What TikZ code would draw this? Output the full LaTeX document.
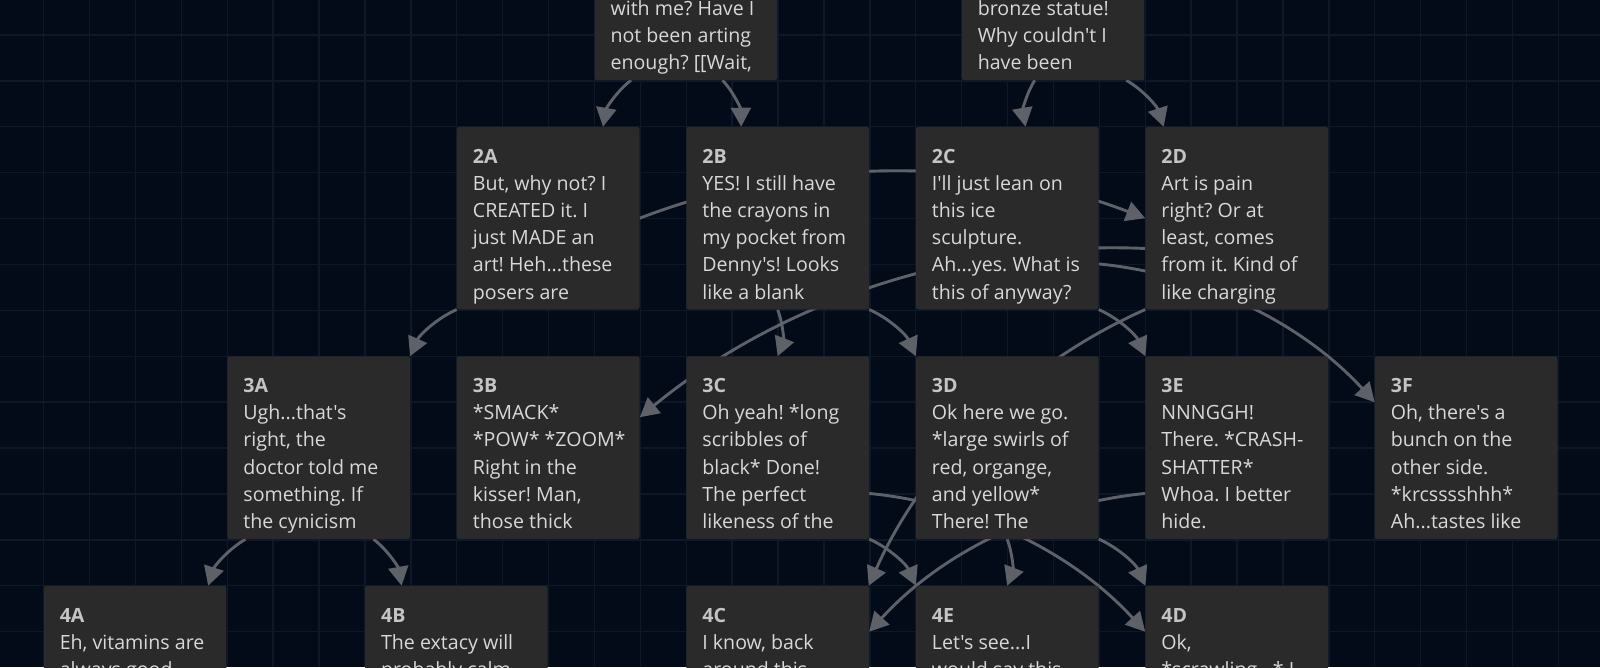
\documentclass[tikz,border=0pt]{standalone}
\usepackage{fontspec}
\newfontfamily\tw{Open Sans}
\usetikzlibrary{arrows.meta,calc}
\definecolor{bgc}{HTML}{030B19}
\definecolor{gridc}{HTML}{0F1828}
\definecolor{boxc}{HTML}{2A2A2A}
\definecolor{textc}{HTML}{D8D8D8}
\definecolor{titlec}{HTML}{C4C4C4}
\definecolor{linkc}{HTML}{5E6168}
\pgfdeclarelayer{gridlayer}
\pgfdeclarelayer{linklayer}
\pgfsetlayers{gridlayer,linklayer,main}
\newcommand\dd{...}
\frenchspacing
\tikzset{
  box/.style={rectangle, fill=boxc, minimum width=182.6pt, minimum height=182.6pt,
    inner sep=0pt, rounded corners=2pt, anchor=north west},
  ttl/.style={font=\tw\bfseries\fontsize{19.6}{21}\selectfont, text=titlec, inner sep=0pt, anchor=base west},
  txt/.style={font=\tw\frenchspacing\fontsize{19.6}{21}\selectfont, text=textc, inner sep=0pt, anchor=base west},
  link/.style={draw=linkc, line width=2.9pt, -{Triangle[length=19pt,width=20pt]}, looseness=0.88},
}
\newcommand\mkbox[3]{\node[box] (#1) at (#2,#3) {};}
\newcommand\mktitle[2]{\node[ttl] (#1-t) at ($(#1.north west)+(16,36.6)$) {#2};}
\newcommand\mklines[3]{\foreach \t [count=\i from #2] in {#3} {\node[txt] (#1-\i) at ($(#1.north west)+(16,63.3+27.3*\i-27.3)$) {\t};}}
\newcommand\lnk[3]{%
  \path (#1) -- (#2) coordinate[pos=0] (#1#2s) coordinate[pos=1] (#1#2e);
  \begin{pgfonlayer}{linklayer}\draw[link] (#1#2s) to[#3] (#1#2e);\end{pgfonlayer}}
\begin{document}
\begin{tikzpicture}[x=1pt,y=-1pt]
\useasboundingbox (0,0) rectangle (1600,667);
\begin{pgfonlayer}{gridlayer}
  \fill[bgc] (0,0) rectangle (1600,667);
  \foreach \k in {-1,0,...,34} {\draw[gridc, line width=1.4pt] (43.6+45.9*\k,0) -- (43.6+45.9*\k,667);}
  \foreach \k in {-1,0,...,14} {\draw[gridc, line width=1.4pt] (0,34.9+45.9*\k) -- (1600,34.9+45.9*\k);}
\end{pgfonlayer}
% passages
\mkbox{pT1}{594.4}{-102.8}
\mklines{pT1}{3}{{with me? Have I},{not been arting},{enough? [[Wait,}}
\mkbox{pT2}{961.6}{-102.8}
\mklines{pT2}{3}{{bronze statue!},{Why couldn't I},{have been}}
\mkbox{p2A}{456.7}{126.7}\mktitle{p2A}{2A}
\mklines{p2A}{1}{{But, why not? I},{CREATED it. I},{just MADE an},{art! Heh\dd these},{posers are}}
\mkbox{p2B}{686.2}{126.7}\mktitle{p2B}{2B}
\mklines{p2B}{1}{{YES! I still have},{the crayons in},{my pocket from},{Denny's! Looks},{like a blank}}
\mkbox{p2C}{915.7}{126.7}\mktitle{p2C}{2C}
\mklines{p2C}{1}{{I'll just lean on},{this ice},{sculpture.},{Ah\dd yes. What is},{this of anyway?}}
\mkbox{p2D}{1145.2}{126.7}\mktitle{p2D}{2D}
\mklines{p2D}{1}{{Art is pain},{right? Or at},{least, comes},{from it. Kind of},{like charging}}
\mkbox{p3A}{227.2}{356.2}\mktitle{p3A}{3A}
\mklines{p3A}{1}{{Ugh\dd that's},{right, the},{doctor told me},{something. If},{the cynicism}}
\mkbox{p3B}{456.7}{356.2}\mktitle{p3B}{3B}
\mklines{p3B}{1}{{*SMACK*},{*POW* *ZOOM*},{Right in the},{kisser! Man,},{those thick}}
\mkbox{p3C}{686.2}{356.2}\mktitle{p3C}{3C}
\mklines{p3C}{1}{{Oh yeah! *long},{scribbles of},{black* Done!},{The perfect},{likeness of the}}
\mkbox{p3D}{915.7}{356.2}\mktitle{p3D}{3D}
\mklines{p3D}{1}{{Ok here we go.},{*large swirls of},{red, organge,},{and yellow*},{There! The}}
\mkbox{p3E}{1145.2}{356.2}\mktitle{p3E}{3E}
\mklines{p3E}{1}{{NNNGGH!},{There. *CRASH-},{SHATTER*},{Whoa. I better},{hide.}}
\mkbox{p3F}{1374.7}{356.2}\mktitle{p3F}{3F}
\mklines{p3F}{1}{{Oh, there's a},{bunch on the},{other side.},{*krcsssshhh*},{Ah\dd tastes like}}
\mkbox{p4A}{43.6}{585.7}\mktitle{p4A}{4A}
\mklines{p4A}{1}{{Eh, vitamins are},{always good}}
\mkbox{p4B}{364.9}{585.7}\mktitle{p4B}{4B}
\mklines{p4B}{1}{{The extacy will},{probably calm}}
\mkbox{p4C}{686.2}{585.7}\mktitle{p4C}{4C}
\mklines{p4C}{1}{{I know, back},{around this}}
\mkbox{p4E}{915.7}{585.7}\mktitle{p4E}{4E}
\mklines{p4E}{1}{{Let's see\dd I},{would say this}}
\mkbox{p4D}{1145.2}{585.7}\mktitle{p4D}{4D}
\mklines{p4D}{1}{{Ok,},{*scrawling\dd* I}}
% links
\lnk{pT1}{p2A}{bend right=21}
\lnk{pT1}{p2B}{bend left=21}
\lnk{pT2}{p2C}{bend right=21}
\lnk{pT2}{p2D}{bend left=21}
\lnk{p2A}{p2D}{bend left=21}
\lnk{p2A}{p3A}{bend right=21}
\lnk{p2B}{p3C}{bend left=21}
\lnk{p2B}{p3D}{bend left=21}
\lnk{p2C}{p3E}{bend left=21}
\lnk{p2C}{p3F}{bend left=21}
\lnk{p2D}{p3B}{bend right=21}
\lnk{p2D}{p4C}{bend right=21}
\lnk{p3A}{p4A}{bend right=21}
\lnk{p3A}{p4B}{bend left=21}
\lnk{p3C}{p4E}{bend left=21}
\lnk{p3C}{p4D}{bend left=21}
\lnk{p3D}{p4E}{bend left=21}
\lnk{p3D}{p4D}{bend left=21}
\lnk{p3E}{p4C}{bend right=21}
\end{tikzpicture}
\end{document}
